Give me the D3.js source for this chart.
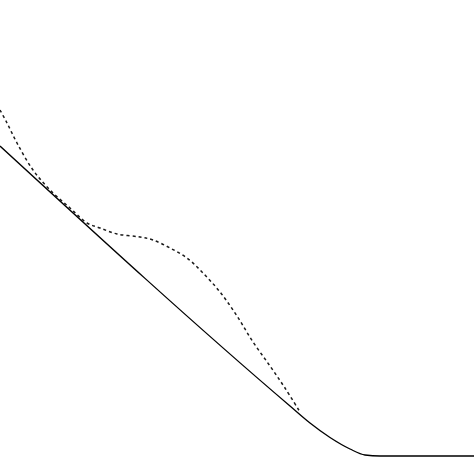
<!DOCTYPE html>
<html><head><meta charset="utf-8">
<script src="https://cdn.jsdelivr.net/npm/d3@7"></script>
<style>html,body{margin:0;padding:0;background:#fff;}svg{display:block;}</style>
</head><body>
<svg id="c" width="474" height="474"></svg>
<script>
// data: x position and value (height above baseline), arbitrary units
const solidX = [0, 290, 310, 330, 350, 365, 380, 474];
const solidY = [328, 68, 51, 36.5, 25, 19, 18, 18];
const dashedX = [0, 7, 17, 33, 50, 70, 87, 100, 117, 140, 153, 170, 187, 203, 220, 237, 253, 270, 285, 300];
const dashedY = [364, 351, 331, 304, 284, 266, 251, 246, 240, 237, 234, 226, 216, 201, 182, 158, 132, 108, 86, 62];

const svg = d3.select("#c");
const x = d3.scaleLinear().domain([0, 474]).range([0, 474]);
const y = d3.scaleLinear().domain([0, 474]).range([474, 0]);

const solidLine = d3.line().x(d => x(d[0])).y(d => y(d[1])).curve(d3.curveMonotoneX);
const dashLine = d3.line().x(d => x(d[0])).y(d => y(d[1])).curve(d3.curveCatmullRom.alpha(0.5));

svg.append("path")
  .datum(solidX.map((v, i) => [v, solidY[i]]))
  .attr("d", solidLine)
  .attr("fill", "none")
  .attr("stroke", "#000")
  .attr("stroke-width", 1.3);

svg.append("path")
  .datum(dashedX.map((v, i) => [v, dashedY[i]]))
  .attr("d", dashLine)
  .attr("fill", "none")
  .attr("stroke", "#1a1a1a")
  .attr("stroke-width", 1.5)
  .attr("stroke-dasharray", "3,3");
</script>
</body></html>
